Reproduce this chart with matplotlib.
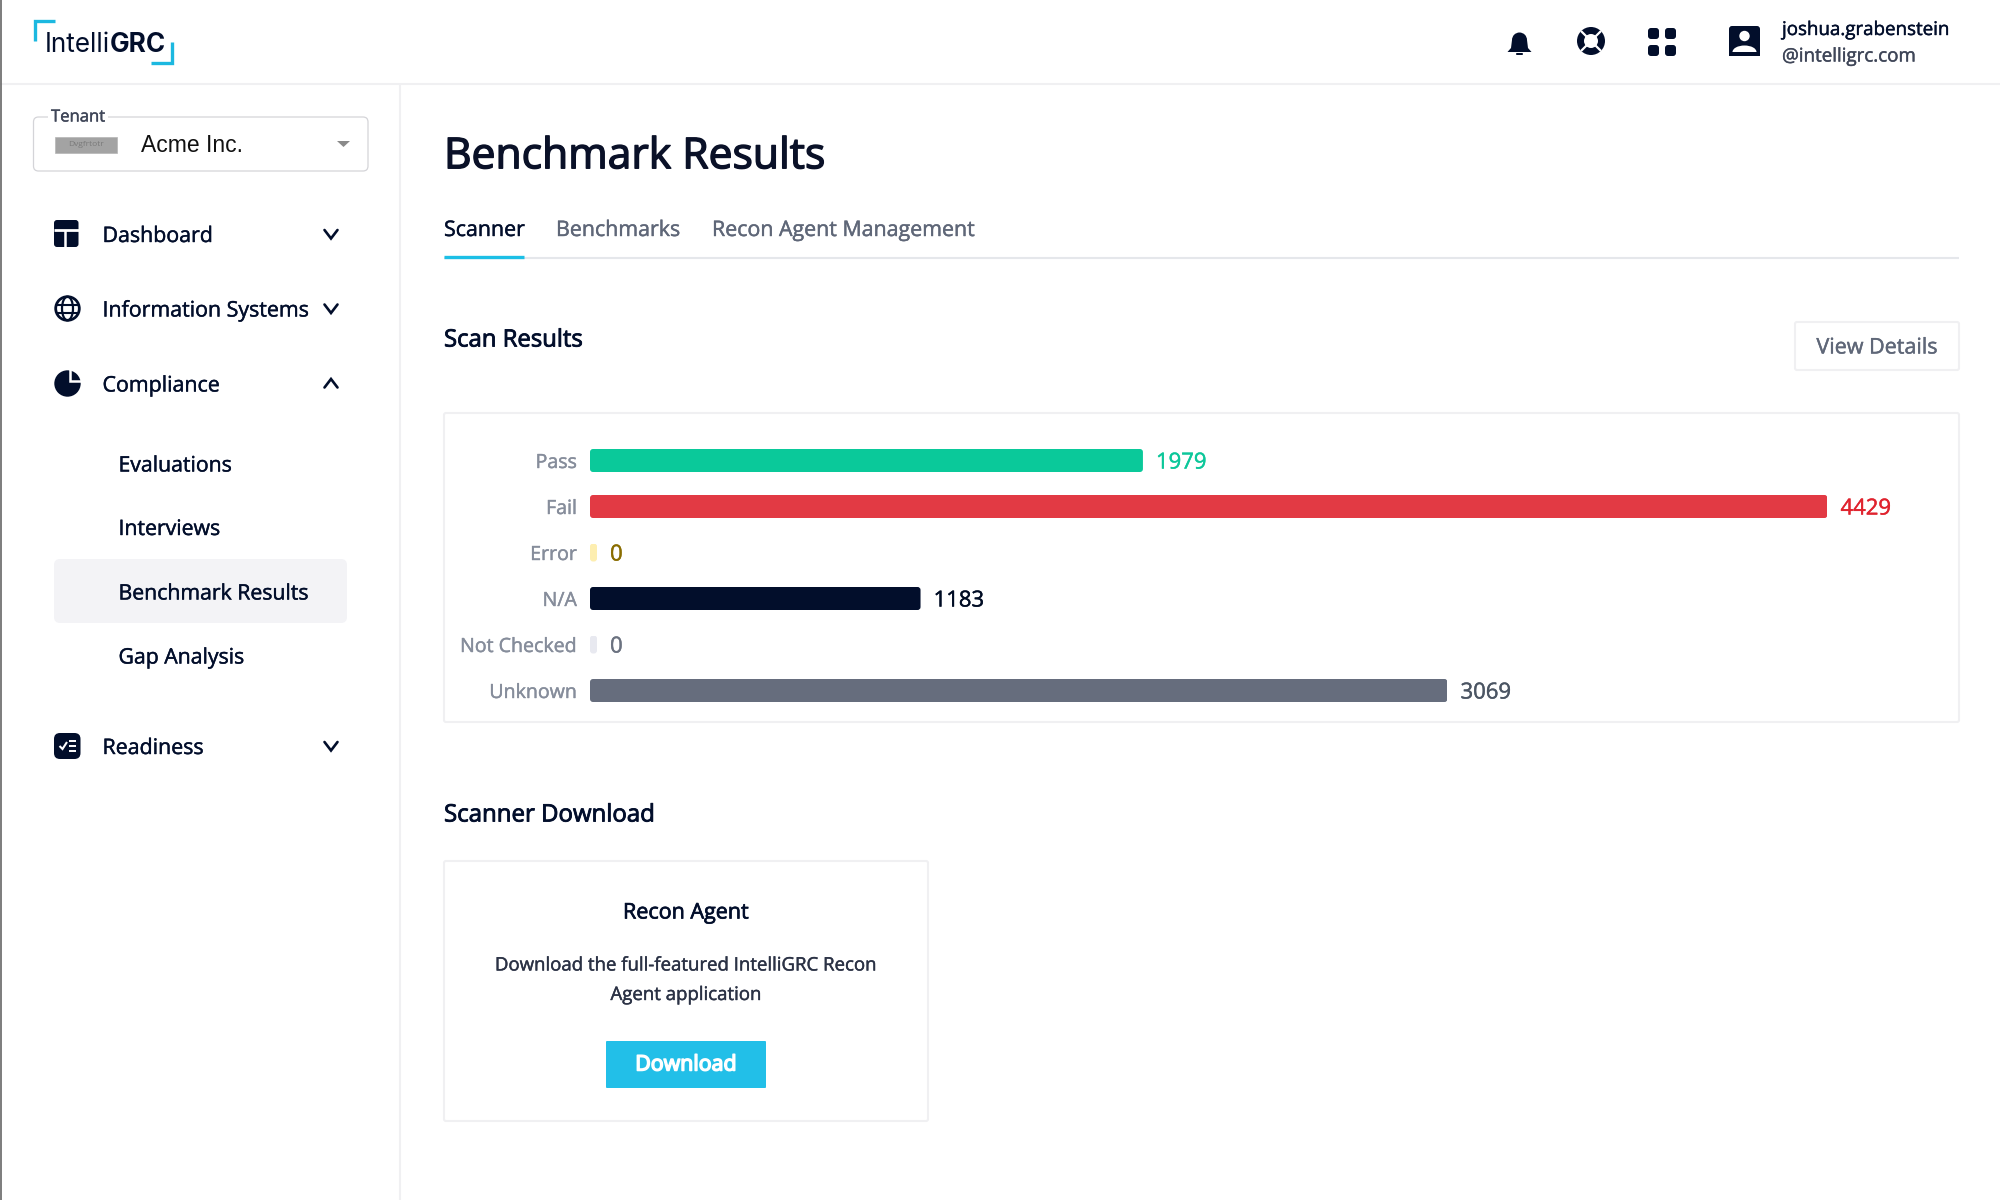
import numpy as np
import matplotlib
matplotlib.use("Agg")
import matplotlib.pyplot as plt
import matplotlib.patheffects as pe
from matplotlib.patches import FancyBboxPatch, Circle, Ellipse, Polygon, Rectangle

# chart data
categories = ["Pass", "Fail", "Error", "N/A", "Not Checked", "Unknown"]
values = [1979, 4429, 0, 1183, 0, 3069]

# page text
menu_items = ["Dashboard", "Information Systems", "Compliance", "Readiness"]
sub_items = ["Evaluations", "Interviews", "Benchmark Results", "Gap Analysis"]
tab_labels = ["Scanner", "Benchmarks", "Recon Agent Management"]

# styles
bar_colors = ["#0ac99a", "#e23a44", "#fdeeb0", "#020e2b", "#e8e9f0", "#666d7d"]
value_colors = ["#0cc79a", "#e0232e", "#8a6d00", "#000c24", "#6b7280", "#4b5563"]

DARK = "#020e2b"
GRAY = "#5f6778"
CYAN = "#1cb8e0"
LINE = "#f0f0f2"
PX_PER_UNIT = 0.2794

plt.rcParams["font.family"] = ["Open Sans", "DejaVu Sans"]

fig = plt.figure(figsize=(20, 12), dpi=100, facecolor="white")
page = fig.add_axes([0, 0, 1, 1])
page.set_xlim(0, 2000)
page.set_ylim(1200, 0)
page.axis("off")


def rrect(x0, y0, x1, y1, r=0, fc="none", ec="none", lw=0, z=2):
    p = FancyBboxPatch((x0, y0), x1 - x0, y1 - y0, boxstyle=f"round,pad=0,rounding_size={r}",
                       fc=fc, ec=ec, lw=lw, zorder=z)
    page.add_patch(p)


def line(xs, ys, c=DARK, lw=2, z=3, cap="round"):
    page.plot(xs, ys, color=c, lw=lw, zorder=z, solid_capstyle=cap, solid_joinstyle="miter")


def label(x, y, s, size=15, c=DARK, ha="left", heavy=0.3, **kw):
    # the screenshot text is a bit heavier than the regular weight, so thicken it slightly
    t = page.text(x, y + 2.5, s, fontsize=size, color=c, ha=ha, va="center", **kw)
    t.set_path_effects([pe.withStroke(linewidth=heavy, foreground=c)])
    return t


def chevron(x, y, up=False):
    d = -5 if up else 5
    line([x - 6.5, x, x + 6.5], [y - d * 0.8, y + d * 0.9, y - d * 0.8], lw=1.9)


# frame lines
line([0, 2000], [84, 84], c=LINE, lw=1.5, cap="butt")
line([400, 400], [84, 1200], c=LINE, lw=1.5, cap="butt")
line([0.7, 0.7], [0, 1200], c="#666666", lw=1.2, z=6, cap="butt")

# logo
line([34.5, 34.5, 55], [41, 20.5, 20.5], c=CYAN, lw=2.4, cap="butt")
line([151, 171.5, 171.5], [62.5, 62.5, 42], c=CYAN, lw=2.4, cap="butt")
logo = page.text(44.5, 44.5, "Intelli", fontsize=18.8, color=DARK, va="center", family="Inter")
page.annotate("GRC", xycoords=logo, xy=(1, 0.5), va="center", fontsize=18.8, color=DARK,
              family="Inter", fontweight="bold")

# top right icons
page.add_patch(Circle((1519.5, 40), 7.5, fc=DARK, zorder=3))
page.add_patch(Polygon([(1512, 40), (1527, 40), (1528, 48), (1531.5, 52), (1507.5, 52), (1511, 48)],
                       fc=DARK, zorder=3))
rrect(1516, 53, 1523, 55, 1, fc=DARK, z=3)
page.add_patch(Circle((1591, 41), 14, fc=DARK, zorder=3))
line([1581, 1601], [31, 51], c="white", lw=1.6, z=4, cap="butt")
line([1581, 1601], [51, 31], c="white", lw=1.6, z=4, cap="butt")
page.add_patch(Circle((1591, 41), 7, fc="white", zorder=5))
for gx in (1648, 1665):
    for gy in (28, 45):
        rrect(gx, gy, gx + 11, gy + 11, 3, fc=DARK, z=3)
rrect(1729, 26, 1760, 56, 3, fc=DARK, z=3)
page.add_patch(Circle((1744.5, 36), 5.2, fc="white", zorder=4))
page.add_patch(Ellipse((1744.5, 52), 24, 13, fc="white", zorder=4))
page.add_patch(Rectangle((1729, 52), 31, 4, fc=DARK, zorder=5))
label(1782, 27.5, "joshua.grabenstein", size=13.5)
label(1782, 54, "@intelligrc.com", size=13.5, c="#3f4658")

# tenant box
rrect(33.5, 117, 368, 171, 5, fc="white", ec="#d4d4d8", lw=0.9)
label(51, 115, "Tenant", size=12, c="#3f4658", bbox=dict(fc="white", ec="none", pad=2), zorder=3)
page.add_patch(Rectangle((55, 137), 62, 16, fc="#a3a3a3", ec="#b5b5b5", lw=0.5, zorder=3))
page.text(86, 145, "Dvgfrtotr", fontsize=6, color="#7a7a7a", ha="center", va="center", zorder=4)
page.text(141, 146, "Acme Inc.", fontsize=16.5, color="#111111", va="center", family="Liberation Sans")
page.add_patch(Polygon([(337, 141), (350, 141), (343.5, 147)], fc="#8a8a8a", zorder=3))

# side menu
menu_y = [234, 308.5, 383.5, 746]
for name, y in zip(menu_items, menu_y):
    label(102.5, y, name, size=15.4)
    chevron(331, y, up=name == "Compliance")
sub_y = [463.5, 527, 591.5, 655.5]
rrect(54, 559, 347, 623, 6, fc="#f3f3f6", z=1)
for name, y in zip(sub_items, sub_y):
    label(118.5, y, name, size=15.3)

# dashboard icon
rrect(54, 220, 78.5, 247, 3, fc=DARK, z=3)
line([54, 78.5], [229.5, 229.5], c="white", lw=2, z=4, cap="butt")
line([65, 65], [229.5, 247], c="white", lw=1.8, z=4, cap="butt")
# globe icon
page.add_patch(Circle((67.5, 308.5), 11.8, fc="none", ec=DARK, lw=2, zorder=3))
page.add_patch(Ellipse((67.5, 308.5), 11, 23.6, fc="none", ec=DARK, lw=1.6, zorder=3))
line([56, 79], [304.5, 304.5], lw=1.5, cap="butt")
line([56, 79], [312.5, 312.5], lw=1.5, cap="butt")
# pie icon
page.add_patch(Circle((67.5, 383.5), 13.2, fc=DARK, zorder=3))
line([69.5, 69.5, 82], [368, 381, 381], c="white", lw=1.8, z=4, cap="butt")
# readiness icon
rrect(54, 733, 80.5, 759, 6, fc=DARK, z=3)
line([59.5, 62.5, 67], [746, 749, 742], c="white", lw=1.5, z=4, cap="butt")
for ly in (741, 746, 751):
    line([68.5, 76], [ly, ly], c="white", lw=1.4, z=4, cap="butt")

# page heading and tabs
label(444, 154.5, "Benchmark Results", size=30.7, c="#0a1128", heavy=1.0)
tab_x = [444, 556, 712]
for i, (name, x) in enumerate(zip(tab_labels, tab_x)):
    label(x, 228, name, size=15.4, c=DARK if i == 0 else GRAY)
line([444, 1959], [258, 258], c="#e5e7eb", lw=1.5, cap="butt")
line([444, 524], [256.5, 256.5], c="#1cbfe6", lw=2.4, cap="butt")

# scan results section
label(444, 338, "Scan Results", size=17.2, heavy=0.6)
rrect(1795, 322, 1959, 370, 2, fc="white", ec=LINE, lw=1.5)
label(1877, 345.5, "View Details", size=15.5, c=GRAY, ha="center")
rrect(444, 413, 1959, 722, 2, fc="white", ec=LINE, lw=1.5)

# bar chart, positioned over the card
ax = fig.add_axes([590 / 2000, 1 - 713.5 / 1200, (1959 - 590) / 2000, 276 / 1200])
ax.patch.set_alpha(0)
ax.set_xlim(0, (1959 - 590) / PX_PER_UNIT)
ax.set_ylim(5.5, -0.5)
y_pos = np.arange(len(categories))
shown = np.maximum(values, 7 / PX_PER_UNIT)  # empty bars keep a small stub
heights = np.where(np.array(values) > 0, 23, 18) / 46
bars = ax.barh(y_pos, shown, height=heights, color=bar_colors)
for bar in bars:
    clip = FancyBboxPatch(bar.get_xy(), bar.get_width(), bar.get_height(),
                          boxstyle=f"round,pad=0,rounding_size={3 / PX_PER_UNIT}",
                          mutation_aspect=(3 / 46) / (3 / PX_PER_UNIT), transform=ax.transData)
    bar.set_clip_path(clip)
for y, w, v, c in zip(y_pos, shown, values, value_colors):
    t = ax.annotate(str(v), (w, y), xytext=(9.4, 0), textcoords="offset points", va="center_baseline",
                    fontsize=15.9, color=c)
    t.set_path_effects([pe.withStroke(linewidth=0.3, foreground=c)])
ax.set_yticks(y_pos, categories)
ax.tick_params(axis="y", length=0, pad=9.4, labelsize=14.1, labelcolor="#868d9b")
for t in ax.get_yticklabels():
    t.set_path_effects([pe.withStroke(linewidth=0.3, foreground="#868d9b")])
ax.xaxis.set_visible(False)
for s in ax.spines.values():
    s.set_visible(False)

# scanner download section
label(444, 813, "Scanner Download", size=17.3, heavy=0.6)
rrect(444, 861, 928, 1121, 2, fc="white", ec=LINE, lw=1.5)
label(686, 910.5, "Recon Agent", size=15.5, ha="center", heavy=0.5)
label(686, 963, "Download the full-featured IntelliGRC Recon", size=13.4, c="#2b3245", ha="center")
label(686, 992.5, "Agent application", size=13.4, c="#2b3245", ha="center")
rrect(606, 1041, 766, 1088, 1, fc="#22bfe8", z=2)
label(686, 1062.5, "Download", size=15.4, c="white", ha="center", heavy=1.1, zorder=3)

fig.savefig("out.png", dpi=100, facecolor="white")
